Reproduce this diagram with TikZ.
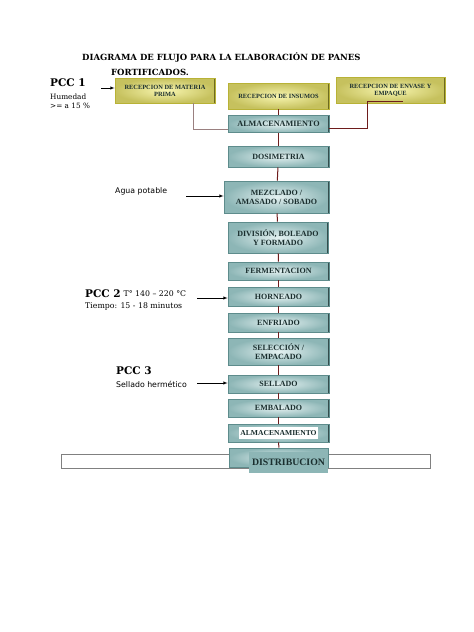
\documentclass[tikz,border=0pt]{standalone}
\usepackage{fontspec}
\setmainfont{Liberation Serif}
\newfontfamily\titulofont{DejaVu Serif}
\newfontfamily\notafont{DejaVu Sans}
\usetikzlibrary{positioning}

\definecolor{verdeborde}{HTML}{5E8C8C}
\definecolor{verdeclaro}{HTML}{E4F1F1}
\definecolor{verdemedio}{HTML}{8DB6B6}
\definecolor{amarilloborde}{HTML}{B8B236}
\definecolor{amarilloclaro}{HTML}{F8F6B0}
\definecolor{lineaguinda}{HTML}{6E1C1C}
\definecolor{lineagris}{HTML}{9A8080}
\definecolor{textocaja}{HTML}{1A2E2E}

\tikzset{
  paso/.style={rectangle, draw=verdeborde, line width=0.8pt, inner color=verdeclaro,
    outer color=verdemedio, minimum width=101pt, align=center, text=textocaja,
    font=\bfseries\fontsize{8}{9}\selectfont, inner sep=1pt,
    path picture={\draw[verdeborde!55!black, line width=2pt]
      (path picture bounding box.north east) -- (path picture bounding box.south east);}},
  recepcion/.style={rectangle, draw=amarilloborde, line width=0.8pt, inner color=amarilloclaro,
    outer color=amarilloborde!80, align=center, text=textocaja,
    font=\bfseries\fontsize{6.4}{7.2}\selectfont, inner sep=1pt,
    path picture={\draw[amarilloborde!60!black, line width=1.5pt]
      (path picture bounding box.north east) -- (path picture bounding box.south east);}},
  flujo/.style={draw=lineaguinda, line width=1pt},
  nota/.style={anchor=west, inner sep=0pt, font=\notafont\fontsize{7.8}{9}\selectfont},
  pcc/.style={anchor=west, inner sep=0pt, font=\titulofont\bfseries\fontsize{10.5}{12}\selectfont},
  entrada/.style={draw=black, line width=0.5pt, -latex}
}

\begin{document}
\begin{tikzpicture}[x=1pt, y=-1pt]
\useasboundingbox (0,0) rectangle (474,632);

%% titulo
\node[anchor=west, inner sep=0pt, font=\titulofont\bfseries\fontsize{8.5}{10}\selectfont] (tit1) at (82,57) {DIAGRAMA DE FLUJO PARA LA ELABORACIÓN DE PANES};
\node[anchor=west, inner sep=0pt, font=\titulofont\bfseries\fontsize{8.5}{10}\selectfont] (tit2) at (111,72) {FORTIFICADOS.};

%% franja de distribucion
\node[draw=gray, fill=white, line width=0.6pt, minimum width=369pt, minimum height=14pt, inner sep=0pt] (franja) at (245.5,461) {};

%% recepciones
\node[recepcion, minimum width=100pt, minimum height=25pt] (mp)  at (165,90.5) {RECEPCION DE MATERIA\\PRIMA};
\node[recepcion, minimum width=101pt, minimum height=26pt] (ins) at (278.5,96) {RECEPCION DE INSUMOS};
\node[recepcion, minimum width=109pt, minimum height=26pt] (env) at (390.5,90) {RECEPCION DE ENVASE Y\\EMPAQUE};

%% pasos
\node[paso, minimum height=17pt, font=\bfseries\fontsize{8.2}{9.5}\selectfont] (alm1) at (278.5,124) {ALMACENAMIENTO};
\node[paso, minimum height=21pt] (dos)  at (278.5,156.5) {DOSIMETRIA};
\node[paso, minimum height=32pt, minimum width=105pt] (mez) at (276.5,197) {MEZCLADO /\\AMASADO / SOBADO};
\node[paso, minimum height=31pt, minimum width=100pt] (div) at (278,237.5) {DIVISIÓN, BOLEADO\\Y FORMADO};
\node[paso, minimum height=18pt] (fer)  at (278.5,271) {FERMENTACION};
\node[paso, minimum height=19pt] (hor)  at (278.5,296.5) {HORNEADO};
\node[paso, minimum height=19pt] (enf)  at (278.5,322.5) {ENFRIADO};
\node[paso, minimum height=27pt] (sel)  at (278.5,351.5) {SELECCIÓN /\\EMPACADO};
\node[paso, minimum height=18pt] (sell) at (278.5,384) {SELLADO};
\node[paso, minimum height=18pt] (emb)  at (278.5,408) {EMBALADO};
\node[paso, minimum height=18pt, font=\bfseries\fontsize{7.6}{9}\selectfont] (alm2) at (278.5,433) {\colorbox{white}{\kern-2pt ALMACENAMIENTO\kern-2pt}};
\node[paso, minimum height=19pt, minimum width=99pt] (dist) at (279,457.5) {};
\node[fill=verdemedio, minimum width=79pt, minimum height=21pt, inner sep=0pt,
  text=textocaja, font=\bfseries\fontsize{9.8}{11}\selectfont] (distxt) at (288.5,462) {DISTRIBUCION};

%% conexiones
\draw[flujo] (ins) -- (alm1);
\draw[flujo] (alm1) -- (dos);
\draw[flujo] (dos) -- (mez);
\draw[flujo] (mez) -- (div);
\draw[flujo] (div) -- (fer);
\draw[flujo] (fer) -- (hor);
\draw[flujo] (hor) -- (enf);
\draw[flujo] (enf) -- (sel);
\draw[flujo] (sel) -- (sell);
\draw[flujo] (sell) -- (emb);
\draw[flujo] (emb) -- (alm2);
\draw[flujo] (alm2) -- (dist);
\draw[draw=lineagris, line width=1pt] ([xshift=28pt]mp.south) |- ([yshift=-5pt]alm1.west);
\draw[flujo] ([xshift=12pt,yshift=2pt]env.south) -- ([xshift=-23.5pt,yshift=2pt]env.south) |- ([yshift=-4pt]alm1.east);

%% puntos criticos
\node[pcc] (pcc1) at (50,83) {PCC 1};
\node[anchor=north west, inner sep=0pt, align=left, font=\titulofont\fontsize{7.3}{8.5}\selectfont] (hum) at (50,94) {Humedad\\>= a 15 \%};
\coordinate (e1) at (101,88);
\draw[entrada] (e1) -- (mp.west |- e1);

\node[nota, font=\notafont\fontsize{7.8}{9}\selectfont] (agua) at (115,191) {Agua potable};
\coordinate (e2) at (186,196);
\draw[entrada] (e2) -- (mez.west |- e2);

\node[pcc] (pcc2) at (85,294) {PCC 2};
\node[anchor=west, inner sep=0pt, font=\titulofont\fontsize{7.8}{9}\selectfont] (temp) at (pcc2.east) {~T° 140 – 220 °C};
\node[anchor=west, inner sep=0pt, font=\titulofont\fontsize{7.8}{9}\selectfont] (tiempo) at (85,306) {Tiempo: 15 - 18 minutos};
\coordinate (e3) at (197,298);
\draw[entrada] (e3) -- (hor.west |- e3);

\node[pcc] (pcc3) at (116,371) {PCC 3};
\node[nota] (herm) at (116,384) {Sellado hermético};
\coordinate (e4) at (197,383);
\draw[entrada] (e4) -- (sell.west |- e4);

\end{tikzpicture}
\end{document}
